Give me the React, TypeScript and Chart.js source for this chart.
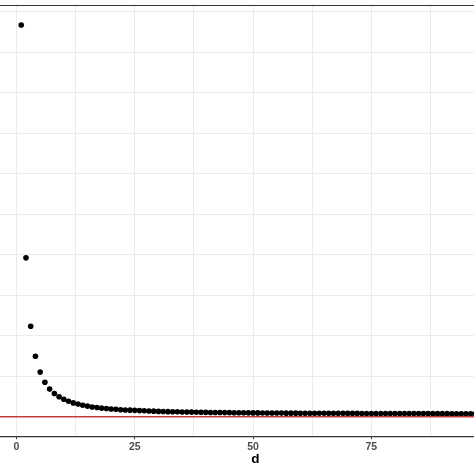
import { Chart, registerables } from "chart.js";
import { useEffect, useRef } from "react";
Chart.register(...registerables);

// d index (x) and value (y, in grid units above the red line)
const dValues = [
  1, 2, 3, 4, 5, 6, 7, 8, 9, 10, 11, 12, 13, 14, 15, 16, 17, 18, 19, 20,
  21, 22, 23, 24, 25, 26, 27, 28, 29, 30, 31, 32, 33, 34, 35, 36, 37, 38, 39, 40,
  41, 42, 43, 44, 45, 46, 47, 48, 49, 50, 51, 52, 53, 54, 55, 56, 57, 58, 59, 60,
  61, 62, 63, 64, 65, 66, 67, 68, 69, 70, 71, 72, 73, 74, 75, 76, 77, 78, 79, 80,
  81, 82, 83, 84, 85, 86, 87, 88, 89, 90, 91, 92, 93, 94, 95, 96, 97, 98, 99, 100,
];
const yValues = [
  9.67, 3.92, 2.23, 1.49, 1.1, 0.85, 0.68, 0.57, 0.49, 0.43,
  0.38, 0.34, 0.31, 0.28, 0.26, 0.24, 0.225, 0.21, 0.2, 0.19,
  0.18, 0.17, 0.165, 0.16, 0.155, 0.15, 0.145, 0.14, 0.136, 0.13,
  0.127, 0.124, 0.121, 0.118, 0.116, 0.114, 0.112, 0.11, 0.108, 0.106,
  0.104, 0.103, 0.101, 0.1, 0.099, 0.097, 0.096, 0.095, 0.094, 0.093,
  0.092, 0.091, 0.09, 0.089, 0.089, 0.088, 0.087, 0.086, 0.086, 0.085,
  0.085, 0.084, 0.084, 0.083, 0.083, 0.082, 0.082, 0.081, 0.081, 0.08,
  0.08, 0.08, 0.079, 0.079, 0.078, 0.078, 0.078, 0.077, 0.077, 0.077,
  0.076, 0.076, 0.076, 0.075, 0.075, 0.075, 0.075, 0.074, 0.074, 0.074,
  0.074, 0.073, 0.073, 0.073, 0.073, 0.072, 0.072, 0.072, 0.072, 0.071,
];
const xTicks = [0, 12.5, 25, 37.5, 50, 62.5, 75, 87.5];
const xMajor = [0, 25, 50, 75];
const yTicks = [0, 1, 2, 3, 4, 5, 6, 7, 8, 9, 10];
const refLevel = 0;
const xTitle = "d";
const xTitleCenter = 50.5; // middle of the full panel, which runs past the crop
const xMin = -3.49;
const xMax = 96.7;
const yMin = -0.49;
const yMax = 10.15;

const frameAndTitle = {
  id: "frameAndTitle",
  afterDraw(chart: Chart) {
    const { ctx, chartArea } = chart;
    const xs: any = chart.scales.x;
    ctx.save();
    ctx.strokeStyle = "#333333";
    ctx.lineWidth = 1.2;
    ctx.beginPath();
    ctx.moveTo(chartArea.left, chartArea.top);
    ctx.lineTo(chartArea.right, chartArea.top);
    ctx.stroke();
    ctx.fillStyle = "#000000";
    ctx.font = "bold 13.5px 'Liberation Sans', Arial, sans-serif";
    ctx.textAlign = "center";
    ctx.textBaseline = "middle";
    ctx.fillText(xTitle, xs.getPixelForValue(xTitleCenter), xs.bottom - 15);
    ctx.restore();
  },
};

function DotChart() {
  const chartRef = useRef<HTMLCanvasElement | null>(null);
  const chartInstance = useRef<Chart | null>(null);

  useEffect(() => {
    const ctx = chartRef.current?.getContext("2d");
    if (chartInstance.current) {
      chartInstance.current.destroy();
    }
    if (ctx) {
      Chart.defaults.font.family = "'Liberation Sans', Arial, sans-serif";
      chartInstance.current = new Chart(ctx, {
        type: "scatter",
        data: {
          datasets: [
            {
              type: "line",
              data: [
                { x: xMin, y: refLevel },
                { x: xMax, y: refLevel },
              ],
              borderColor: "#c23b3b",
              borderWidth: 1.5,
              pointRadius: 0,
              order: 0,
            },
            {
              data: dValues.map((d, i) => ({ x: d, y: yValues[i] })),
              backgroundColor: "#000000",
              borderColor: "#000000",
              pointRadius: 2.8,
              borderWidth: 0,
              order: 1,
            },
          ],
        },
        options: {
          animation: false,
          responsive: true,
          maintainAspectRatio: false,
          layout: { autoPadding: false, padding: { top: 5.5, left: 0, right: 0, bottom: 0 } },
          plugins: {
            legend: { display: false },
            tooltip: { enabled: false },
          },
          scales: {
            x: {
              type: "linear",
              min: xMin,
              max: xMax,
              afterBuildTicks: (scale: any) => {
                scale.ticks = xTicks.map((v) => ({ value: v }));
              },
              afterFit: (scale: any) => {
                scale.height = 37.5;
                scale.paddingLeft = 0;
                scale.paddingRight = 0;
              },
              ticks: {
                color: "#4d4d4d",
                font: { size: 10.5, weight: "bold" },
                padding: 1.3,
                maxRotation: 0,
                callback: (v: any) => (xMajor.includes(Number(v)) ? String(v) : ""),
              },
              grid: {
                color: "#ebebeb",
                lineWidth: 1,
                tickLength: 2.7,
                tickColor: (c: any) =>
                  xMajor.includes(c.tick?.value) ? "#333333" : "rgba(0,0,0,0)",
              },
              border: { display: true, color: "#333333", width: 1.2 },
              title: { display: false },
            },
            y: {
              type: "linear",
              min: yMin,
              max: yMax,
              afterBuildTicks: (scale: any) => {
                scale.ticks = yTicks.map((v) => ({ value: v }));
              },
              afterFit: (scale: any) => {
                scale.width = 0;
              },
              ticks: { display: false },
              grid: { color: "#ebebeb", lineWidth: 1, drawTicks: false },
              border: { display: false },
            },
          },
        },
        plugins: [frameAndTitle],
      });
    }
    return () => {
      if (chartInstance.current) {
        chartInstance.current.destroy();
      }
    };
  }, []);

  return <canvas ref={chartRef} />;
}

export default function App() {
  return (
    <div
      style={{
        position: "fixed",
        left: 0,
        top: 0,
        width: 474,
        height: 474,
        background: "#ffffff",
      }}
    >
      <DotChart />
    </div>
  );
}
